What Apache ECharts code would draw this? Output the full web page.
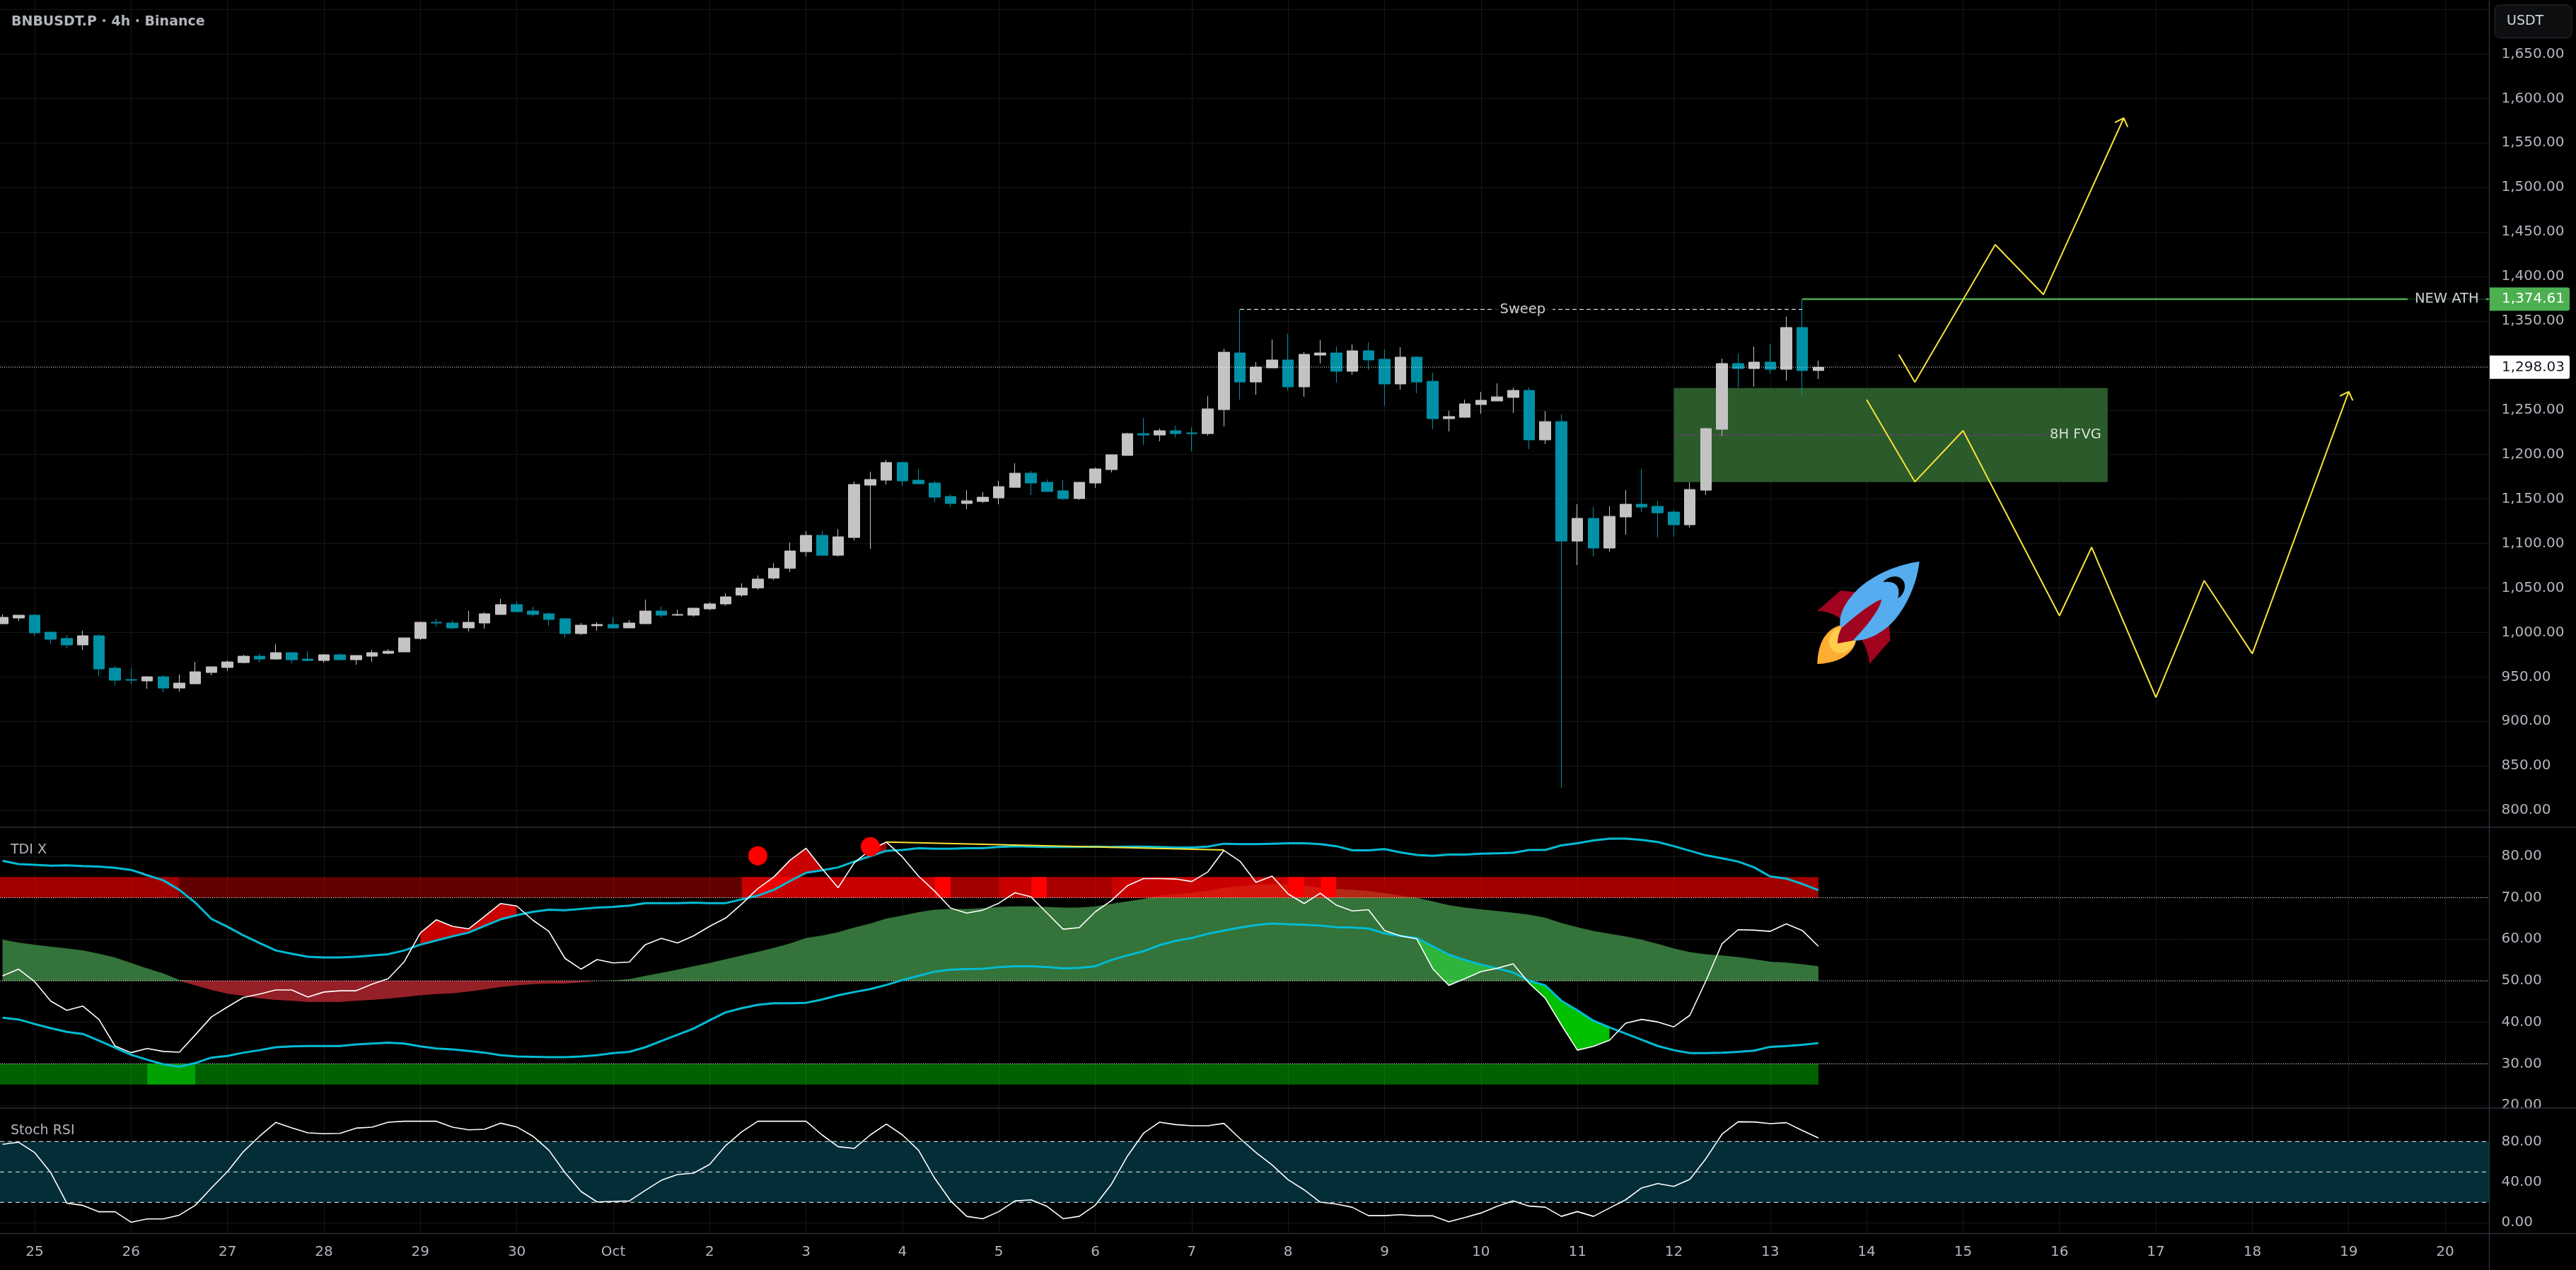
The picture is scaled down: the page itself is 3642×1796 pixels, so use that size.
<!DOCTYPE html>
<html>
<head>
<meta charset="utf-8">
<style>html,body{margin:0;padding:0;background:#000}#c{width:3642px;height:1796px}</style>
<script src="https://cdn.jsdelivr.net/npm/echarts@6/dist/echarts.min.js"></script>
</head>
<body>
<div id="c"></div>
<script>
// ---- candles: bar index runs from firstBar, one bar = 4h, bar 0 = 25 Sep 00:00
const firstBar = -2;
const opens = [1009.8,1016.2,1019.4,1000.3,993.2,986.0,996.3,959.8,947.1,945.5,950.2,937.5,
942.3,955.0,960.6,966.1,973.3,970.1,977.3,970.1,968.5,974.9,
969.3,973.3,976.5,978.1,993.2,1011.4,1010.6,1005.1,1010.6,1020.2,
1031.3,1024.1,1021.0,1015.4,998.7,1007.5,1009.0,1005.1,1009.8,1024.1,
1019.4,1019.4,1026.5,1032,1042,1050,1061,1072,1090.8,1109.1,
1086.8,1106.7,1165.5,1171.1,1191.0,1171.1,1167.9,1152.8,1144.9,1147.2,
1151.2,1163.1,1179.0,1168.7,1159.2,1150.4,1167.9,1183.0,1198.9,1223.5,
1221.9,1226.7,1224.3,1223.5,1250.5,1314.1,1281.5,1297.4,1306.2,1276.0,
1311.7,1314.1,1293.5,1316.5,1307.0,1279.2,1309.4,1282.3,1240.2,1241.8,
1256.1,1260.1,1264.1,1272.0,1216.4,1237.0,1102.7,1128.2,1094.8,1129.8,
1144.1,1141.7,1135.3,1121.0,1159.9,1228.3,1302.2,1296.6,1303.8,1295.8,
1342.7,1294.3];
const closes = [1017.0,1019.4,999.5,992.4,986.0,996.3,959.0,946.3,946.3,950.2,937.5,943.1,
955.8,961.4,966.9,973.3,970.1,977.3,969.3,968.5,974.9,969.3,
974.1,977.3,978.9,993.9,1011.4,1010.6,1005.1,1011.4,1021.0,1031.3,
1023.3,1020.2,1014.6,998.7,1008.2,1009.0,1005.1,1010.6,1024.1,1019.4,
1020.2,1027.3,1032.1,1040,1050,1060,1072,1091.6,1109.1,1086.8,
1107.5,1166.3,1171.9,1191.0,1170.3,1167.1,1152.0,1144.9,1148.0,1152.0,
1163.9,1179.0,1167.9,1158.4,1150.4,1168.7,1183.8,1199.7,1223.5,1221.9,
1226.7,1223.5,1223.5,1251.3,1314.9,1281.5,1298.2,1306.2,1276.0,1312.5,
1314.1,1293.5,1316.5,1306.2,1279.2,1309.4,1281.5,1240.2,1242.6,1256.9,
1260.9,1264.8,1272.0,1216.4,1237.0,1102.7,1128.2,1094.8,1130.5,1144.1,
1140.9,1134.5,1121.0,1160.7,1229.1,1302.2,1296.6,1303.8,1295.8,1342.7,
1294.3,1298.03];
const lows = [1009.0,1013.0,996.3,986.8,982.0,980.4,951.0,940.7,941.5,936.7,932.8,933.6,
942.3,951.8,956.6,965.3,966.1,969.3,965.3,967.7,966.1,969.3,
963.7,966.9,975.7,978.1,991.6,1006.7,1003.5,1001.1,1004.3,1020.2,
1022.6,1017.8,1007.5,993.9,997.1,1001.9,1004.3,1005.1,1009.8,1017.0,
1018.6,1017.8,1025,1030,1040,1048,1059,1068,1085.3,1086.0,
1085.3,1103.5,1094.0,1166.3,1164.7,1166.3,1146.4,1140.9,1138.5,1145.6,
1144.0,1163.1,1154.4,1157.6,1148.8,1148.8,1162.3,1179.8,1198.9,1210.8,
1214.8,1218.8,1203.7,1221.1,1231.5,1261.7,1267.2,1296.6,1272.0,1264.9,
1302.2,1280.7,1289.5,1295.0,1254.5,1272.8,1268.8,1228.3,1225.9,1241.0,
1245.8,1260.1,1246.6,1206.0,1211.6,825,1075.7,1085.3,1090.8,1109.9,
1135.3,1106.7,1107.5,1117.8,1154.4,1220.4,1275.2,1276.0,1291.1,1283.1,
1266.4,1284.7];
const highs = [1020.2,1019.4,1020.7,1001.1,997.1,1001.9,997.9,962.2,960.6,951.0,951.8,952.6,
966.9,961.4,968.5,974.9,976.5,986.8,978.1,978.9,975.7,976.5,
974.1,980.4,981.2,993.9,1012.2,1015.4,1013.8,1024.1,1022.6,1037.7,
1035.3,1028.9,1022.6,1016.2,1010.6,1011.4,1017.0,1013.8,1036.9,1028.9,
1025.7,1027.3,1034,1044,1055,1064,1078,1101.1,1113.9,1113.9,
1116.2,1169.5,1180.6,1194.1,1191.8,1183.8,1170.3,1155.2,1159.9,1157.6,
1170.3,1190.1,1181.4,1171.9,1171.1,1168.7,1185.4,1199.7,1224.3,1241.0,
1229.1,1232.3,1230.7,1265.6,1318.9,1363.1,1303.8,1329.2,1335.6,1314.9,
1328.4,1321.3,1323.7,1326.0,1318.1,1320.5,1310.2,1291.9,1248.9,1261.7,
1270.4,1279.9,1275.2,1275.2,1248.9,1245.0,1144.1,1140.9,1141.7,1159.9,
1183.8,1148.0,1137.7,1168.7,1229.9,1307.8,1313.3,1321.3,1323.7,1354.7,
1374.61,1305.4];

// ---- TDI X
const rsi = [51.2,52.8,49.8,45.1,42.9,43.9,40.7,34.3,32.7,33.7,33.0,32.8,
37.0,41.3,43.7,46.0,46.8,47.8,47.8,46.1,47.3,47.6,
47.6,49.2,50.5,54.6,61.5,64.7,63.1,62.5,65.5,68.6,
68.0,64.6,61.9,55.4,52.8,55.1,54.3,54.5,58.7,60.2,
59.1,60.8,63.1,65.1,68.5,72.2,75.0,79.0,81.9,77.0,
72.4,78.4,81.5,83.4,79.8,75.2,71.6,67.5,66.3,67.0,
68.7,71.2,70.2,66.3,62.4,62.8,66.6,69.3,72.9,74.6,
74.6,74.5,73.9,76.2,81.4,78.8,73.7,75.2,70.9,68.6,
71.1,68.2,66.8,67.1,62.1,60.8,60.1,52.9,48.9,50.5,
52.2,53.0,54.1,49.4,45.8,39.4,33.3,34.2,35.7,39.8,
40.7,40.1,38.9,41.7,50.0,58.9,62.3,62.2,61.9,63.7,
62.1,58.3];
const upperBand = [78.9,78.1,77.9,77.7,77.8,77.6,77.5,77.2,76.7,75.4,74.2,71.9,
68.8,64.9,63.0,60.9,59.1,57.3,56.5,55.8,55.6,55.6,
55.8,56.1,56.4,57.3,58.7,59.7,60.7,61.6,63.2,64.8,
65.8,66.6,67.1,67.0,67.3,67.6,67.8,68.1,68.7,68.7,
68.7,68.8,68.7,68.7,69.6,70.5,71.9,74.0,76.0,76.6,
77.3,78.7,80.0,81.3,81.5,81.9,81.8,81.8,81.9,81.9,
82.2,82.4,82.3,82.2,82.2,82.2,82.3,82.2,82.3,82.3,
82.2,82.1,82.1,82.3,83.0,82.9,82.9,83.0,83.1,83.1,
82.9,82.4,81.4,81.4,81.7,80.9,80.3,80.1,80.4,80.4,
80.6,80.7,80.8,81.5,81.5,82.6,83.1,83.8,84.2,84.2,
83.9,83.4,82.4,81.3,80.2,79.5,78.7,77.3,75.1,74.6,
73.3,71.8];
const lowerBand = [41.1,40.7,39.6,38.6,37.7,37.2,35.6,33.9,32.2,31.0,29.9,29.3,
30.2,31.5,31.9,32.7,33.3,34.0,34.2,34.3,34.3,34.3,
34.7,34.9,35.1,34.9,34.2,33.7,33.5,33.1,32.7,32.1,
31.8,31.7,31.6,31.6,31.8,32.1,32.6,32.9,34.0,35.5,
37.0,38.5,40.5,42.4,43.4,44.2,44.6,44.6,44.7,45.5,
46.5,47.3,48.0,49.0,50.2,51.2,52.2,52.7,52.8,52.9,
53.3,53.5,53.5,53.3,53.0,53.1,53.5,55.0,56.1,57.1,
58.6,59.6,60.3,61.3,62.1,62.8,63.4,63.8,63.6,63.5,
63.3,62.9,62.8,62.6,61.4,60.8,60.3,58.3,56.3,55.0,
53.9,53.0,52.0,50.0,48.9,45.2,42.9,40.4,38.8,37.3,
35.8,34.3,33.3,32.6,32.6,32.7,32.9,33.2,34.1,34.3,
34.6,35.0];
const baseLine = [59.9,59.2,58.7,58.2,57.8,57.3,56.5,55.6,54.3,53.0,51.8,50.2,
48.9,47.8,46.9,46.4,45.8,45.4,45.2,44.9,44.9,44.9,
45.2,45.4,45.7,46.1,46.5,46.8,47.0,47.4,47.9,48.5,
48.9,49.2,49.3,49.3,49.6,50.0,50.1,50.4,51.2,51.9,
52.7,53.5,54.3,55.2,56.1,57.0,57.9,59.0,60.3,60.9,
61.7,62.8,63.8,65.0,65.7,66.5,67.1,67.3,67.3,67.5,
67.8,67.9,67.9,67.8,67.6,67.6,67.9,68.5,69.1,69.7,
70.5,70.9,71.2,71.7,72.4,72.8,73.1,73.3,73.2,72.9,
72.4,72.1,71.9,71.6,71.1,70.5,70.0,69.1,68.2,67.6,
67.2,66.8,66.4,65.9,65.2,63.9,62.9,62.0,61.3,60.7,
59.9,58.9,57.8,56.9,56.4,56.1,55.7,55.2,54.6,54.4,
54.0,53.5];
const tdiLevels = [70, 50, 30];
const redZone = [75, 70], greenZone = [30, 25];
const redSegments = [[-2.157,9,.63],[9,44,.38],[44,56,.79],[56,57,1],[57,60,.63],[60,62,.79],[62,63,1],[63,67,.66],[67,78,.79],[78,79,1],[79,80,.79],[80,81,1],[81,111,.63]];
const greenSegments = [[-2.157,7,.38],[7,10,.63],[10,111,.38]];
const fillRegions = [[24,30,'upper','#c80000'],[45,49,'upper','#c80000'],[52,53,'upper','#a80000'],[86,91,'lower','#2fb53b'],[93,98,'lower','#00c000']];
const yellowTrend = [[53,83.4],[74,81.5]];
const redDots = [[45,80.1],[52,82.3]];

// ---- Stoch RSI
const stochK = [77.2,79.3,69.1,49.3,19.3,17.0,10.7,10.7,0.4,3.7,3.7,7.4,
17.2,34.2,50.4,70.2,85.3,98.8,93.5,88.6,87.7,88.1,
93.2,94.2,99.1,100,100,100,94.2,91.6,92.1,98.1,
94.4,85.3,71.4,49.3,30.7,20.4,20.9,21.4,31.8,41.8,
47.4,48.8,57.4,76.0,89.5,100,100,100,100,86.5,
74.9,73.2,86.5,97.2,86.5,71.4,43.9,21.4,6.2,3.9,
10.9,21.4,22.5,16.0,3.9,6.2,17.2,37.7,65.6,88.1,
99.1,96.7,95.6,95.6,97.9,83.0,69.1,57.0,42.3,32.3,
20.2,18.3,15.1,6.9,6.9,7.9,6.7,6.7,0.9,5.1,
9.5,16.0,21.4,16.3,15.3,6.2,10.9,6.2,14.4,22.5,
34.2,38.6,35.8,42.8,63.2,87.2,99.5,99.3,97.7,98.6,
90.9,83.5];
const stochLevels = [80, 50, 20];

// ---- drawings on the price pane
const lastPrice = 1298.03, athPrice = 1374.61;
const sweepPrice = 1363.1, sweepFrom = 75, sweepTo = 110;
const fvgBox = {from: 102, to: 129, top: 1274.7, bottom: 1169, mid: 1221.7, midEnd: 125.2, labelAt: 127};
const upPath = [[116,1312.3],[117,1281.2],[122,1435.8],[125,1379.7],[130,1578],[129.45,1573.1],[130,1578],[130.25,1568]];
const downPath = [[114,1261.5],[117,1169.3],[120,1226.8],[126,1018.8],[128,1095.7],[132,927],[135,1058.3],[138,976.2],[144,1270.6],[143.45,1265.7],[144,1270.6],[144.25,1260.6]];

// ---- axes
const dayTicks = [0,6,12,18,24,30,36,42,48,54,60,66,72,78,84,90,96,102,108,114,120,126,132,138,144,150];
const dayLabels = ['25','26','27','28','29','30','Oct','2','3','4','5','6','7','8','9','10','11','12','13','14','15','16','17','18','19','20'];
const priceGrid = [800,850,900,950,1000,1050,1100,1150,1200,1250,1300,1350,1400,1450,1500,1550,1600,1650,1700];
const priceLabels = [800,850,900,950,1000,1050,1100,1150,1200,1250,1300,1350,1400,1450,1500,1550,1600,1650];
const tdiTicks = [20,30,40,50,60,70,80];
const stochTicks = [0,40,80];

const FONT = '"DejaVu Sans", sans-serif';
const GRAY = '#b2b5be', GRIDC = '#171717', PANE = '#2a2e39';
const xMin = -2.157, xMax = 152.75, W = 3519.5;
const bars = a => a.map((v,k) => [firstBar + k, v]);
const fmtPrice = v => Number(v).toLocaleString('en-US', {minimumFractionDigits: 2, maximumFractionDigits: 2});

const grids = [
  {left:0, top:0, width:W, height:1170},
  {left:0, top:1170, width:W, height:397},
  {left:0, top:1567, width:W, height:177.5}
];
const xAxes = [0,1,2].map(g => ({
  type:'value', gridIndex:g, min:xMin, max:xMax, axisLine:{show:false},
  axisTick:{show:false, customValues:dayTicks},
  splitLine:{show:true, lineStyle:{color:GRIDC, width:1}},
  axisLabel: g===2 ? {show:true, customValues:dayTicks, color:GRAY, fontFamily:FONT, fontSize:20, margin:16,
    formatter:v => dayLabels[dayTicks.indexOf(v)] || ''} : {show:false}
}));
const yAx = (g,min,max,grid,labels,fmt) => ({
  type:'value', gridIndex:g, position:'right', min, max, axisLine:{show:false},
  axisTick:{show:false, customValues:grid},
  splitLine:{show:true, lineStyle:{color:GRIDC, width:1}},
  axisLabel:{show:true, customValues:labels, color:GRAY, fontFamily:FONT, fontSize:20, align:'left', margin:17, formatter:fmt}
});
const yAxes = [
  yAx(0,781,1710.7,priceGrid,priceLabels,fmtPrice),
  yAx(1,19.36,86.94,tdiTicks,tdiTicks,v=>Number(v).toFixed(2)),
  yAx(2,-10.8,113,stochTicks,stochTicks,v=>Number(v).toFixed(2))
];
const on = g => ({xAxisIndex:g, yAxisIndex:g});
const lineS = (g,data,color,width,z,type,extra) => Object.assign({type:'line', ...on(g), data, showSymbol:false, symbol:'none', silent:true, z,
  lineStyle:{color, width, type:type||'solid'}, animation:false}, extra||{});
const hline = (g,v,color,type,z) => lineS(g,[[xMin,v],[xMax,v]],color,1,z,type);
const boxSeries = (g,boxes,z) => ({
  type:'custom', ...on(g), z, silent:true, data:boxes.map(b=>[b[0],b[1],b[2],b[3]]), encode:{x:[0,1],y:[2,3]},
  renderItem:(p,api)=>{
    const a = api.coord([api.value(0),api.value(2)]), b = api.coord([api.value(1),api.value(3)]);
    return {type:'rect', shape:{x:a[0],y:a[1],width:b[0]-a[0],height:b[1]-a[1]}, style:{fill:boxes[p.dataIndex][4]}};
  }
});
const labelPt = (g,x,y,text,bg,pad,size) => ({
  type:'scatter', ...on(g), symbolSize:0, silent:true, z:20, data:[[x,y]],
  label:{show:true, position:'inside', formatter:text, color:'#fff', fontFamily:FONT, fontSize:size||19.5,
    backgroundColor:bg||'transparent', padding:pad||0}
});
const rocketParts = [
  ['#a0041e','M148,312 L246,226 L310,232 L246,345 C220,325 185,312 148,312 Z'],
  ['#a0041e','M340,430 L452,370 L458,436 L370,536 C366,495 352,460 338,438 Z'],
  ['#ffac33','M148,537 C150,470 170,395 245,373 L312,440 C295,510 210,535 148,537 Z'],
  ['#ffcc4d','M200,455 C190,410 225,385 245,380 L310,440 C300,470 270,490 250,490 C225,490 205,480 200,455 Z'],
  ['#55acee','M581,102 C570,210 510,330 440,385 C390,425 340,440 300,438 L245,375 C240,330 260,280 320,220 C390,155 490,115 581,102 Z'],
  ['#000000','M427,190 C445,165 490,155 510,180 C530,205 515,245 490,258 C500,225 490,195 460,190 C450,188 437,188 427,190 Z'],
  ['#a0041e','M420,263 C380,275 300,340 250,385 C238,410 234,430 234,450 L298,438 C340,395 415,310 420,263 Z']
];

const series = [
  boxSeries(0,[[fvgBox.from,fvgBox.to,fvgBox.top,fvgBox.bottom,'#2b5a2b']],1),
  lineS(0,[[fvgBox.from,fvgBox.mid],[fvgBox.midEnd,fvgBox.mid]],'#9c27b0',1,2,[5,4]),
  {type:'candlestick', ...on(0), z:3, silent:true, barWidth:16,
    data:opens.map((o,k)=>[firstBar+k,o,closes[k],lows[k],highs[k]]),
    itemStyle:{color:'#c3c3c3', color0:'#0090a6', borderColor:'#c3c3c3', borderColor0:'#0090a6', borderWidth:1}},
  hline(0,lastPrice,'rgba(255,255,255,.85)',[1,2],4),
  lineS(0,[[sweepFrom,sweepPrice],[sweepTo,sweepPrice]],'#ffffff',1,4,[6,4]),
  lineS(0,[[sweepTo,athPrice],[xMax,athPrice]],'#4caf50',2.5,5),
  lineS(0,upPath,'#f7e339',2,6),
  lineS(0,downPath,'#f7e339',2,6),
  labelPt(0,(sweepFrom+sweepTo)/2+0.1,sweepPrice,'Sweep','#000',[2,10]),
  labelPt(0,150.1,athPrice,'NEW ATH','#000',[3,10]),
  labelPt(0,fvgBox.labelAt,fvgBox.mid,'8H FVG'),
  {type:'custom', ...on(0), z:7, silent:true, clip:false, data:[[0,1000]], encode:{x:0,y:1},
    renderItem:()=>({type:'group', children:rocketParts.map(r=>({type:'path', x:2520, y:760, scaleX:1/3, scaleY:1/3, shape:{pathData:r[1]}, style:{fill:r[0]}}))})},

  lineS(1,bars(baseLine.map(v=>Math.max(v,50))),'#34733a',0,1,null,{areaStyle:{color:'#34733a',opacity:1,origin:50}}),
  lineS(1,bars(baseLine.map(v=>Math.min(v,50))),'#952027',0,1,null,{areaStyle:{color:'#952027',opacity:1,origin:50}}),
  {type:'custom', ...on(1), z:2, silent:true, data:fillRegions.map(r=>[r[0],r[1]]), encode:{x:[0,1],y:-1},
    renderItem:(p,api)=>{
      const r = fillRegions[p.dataIndex], band = r[2]==='upper'?upperBand:lowerBand, pts=[];
      for(let i=r[0];i<=r[1];i++) pts.push(api.coord([i,rsi[i-firstBar]]));
      for(let i=r[1];i>=r[0];i--) pts.push(api.coord([i,band[i-firstBar]]));
      return {type:'polygon', shape:{points:pts}, style:{fill:r[3]}};
    }},
  boxSeries(1,redSegments.map(s=>[s[0],s[1],redZone[0],redZone[1],`rgba(255,0,0,${s[2]})`]),3),
  boxSeries(1,greenSegments.map(s=>[s[0],s[1],greenZone[0],greenZone[1],`rgba(0,255,0,${s[2]})`]),3),
  ...tdiLevels.map(v=>hline(1,v,'rgba(255,255,255,.9)',[1,2],4)),
  lineS(1,bars(upperBand),'#00bcd4',3,5),
  lineS(1,bars(lowerBand),'#00bcd4',3,5),
  lineS(1,bars(rsi),'#ffffff',1.6,6),
  lineS(1,yellowTrend,'#f7e339',2,7),
  {type:'scatter', ...on(1), z:8, silent:true, symbolSize:27, itemStyle:{color:'#ff0000',opacity:1}, data:redDots},

  boxSeries(2,[[xMin,xMax,stochLevels[0],stochLevels[2],'#032e38']],1),
  ...stochLevels.map(v=>hline(2,v,'rgba(255,255,255,.95)',[6,5],3)),
  lineS(2,bars(stochK),'#ffffff',1.6,5)
];

const chart = echarts.init(document.getElementById('c'), null, {renderer:'canvas'});
chart.setOption({backgroundColor:'#000', animation:false, grid:grids, xAxis:xAxes, yAxis:yAxes, series});

const priceY = p => chart.convertToPixel({yAxisIndex:0}, p);
const tag = (p,bg,fg,label) => {
  const y = priceY(p);
  return [
    {type:'rect', z:50, shape:{x:3520,y:y-16.5,width:113,height:33,r:[0,3,3,0]}, style:{fill:bg}},
    {type:'text', z:51, x:3537, y, style:{text:label, fill:fg, font:`20px ${FONT}`, textVerticalAlign:'middle'}}
  ];
};
const hl = (x1,y1,x2,y2) => ({type:'line', z:40, shape:{x1,y1,x2,y2}, style:{stroke:PANE, lineWidth:1.5}});
const txt = (x,y,text,size,fill,weight) => ({type:'text', z:60, x, y, style:{text, fill, font:`${weight||'normal'} ${size}px ${FONT}`, textVerticalAlign:'middle'}});
chart.setOption({graphic:{elements:[
  {type:'rect', z:30, shape:{x:3520.5,y:1568,width:122,height:36}, style:{fill:'#000'}},
  hl(0,1170,3642,1170), hl(0,1567,3642,1567), hl(0,1744.5,3642,1744.5), hl(3519.5,0,3519.5,1796),
  ...tag(athPrice,'#4caf50','#ffffff',fmtPrice(athPrice)),
  ...tag(lastPrice,'#ffffff','#131722',fmtPrice(lastPrice)),
  {type:'rect', z:50, shape:{x:3527,y:7,width:109,height:46.5,r:7}, style:{fill:'#0e0f11',stroke:PANE,lineWidth:1}},
  txt(3544,30,'USDT',19,'#d1d4dc'),
  txt(16,31,'BNBUSDT.P · 4h · Binance',19,GRAY,'600'),
  txt(15,1202,'TDI X',19,GRAY),
  txt(15,1599,'Stoch RSI',19,GRAY)
]}});
</script>
</body>
</html>
